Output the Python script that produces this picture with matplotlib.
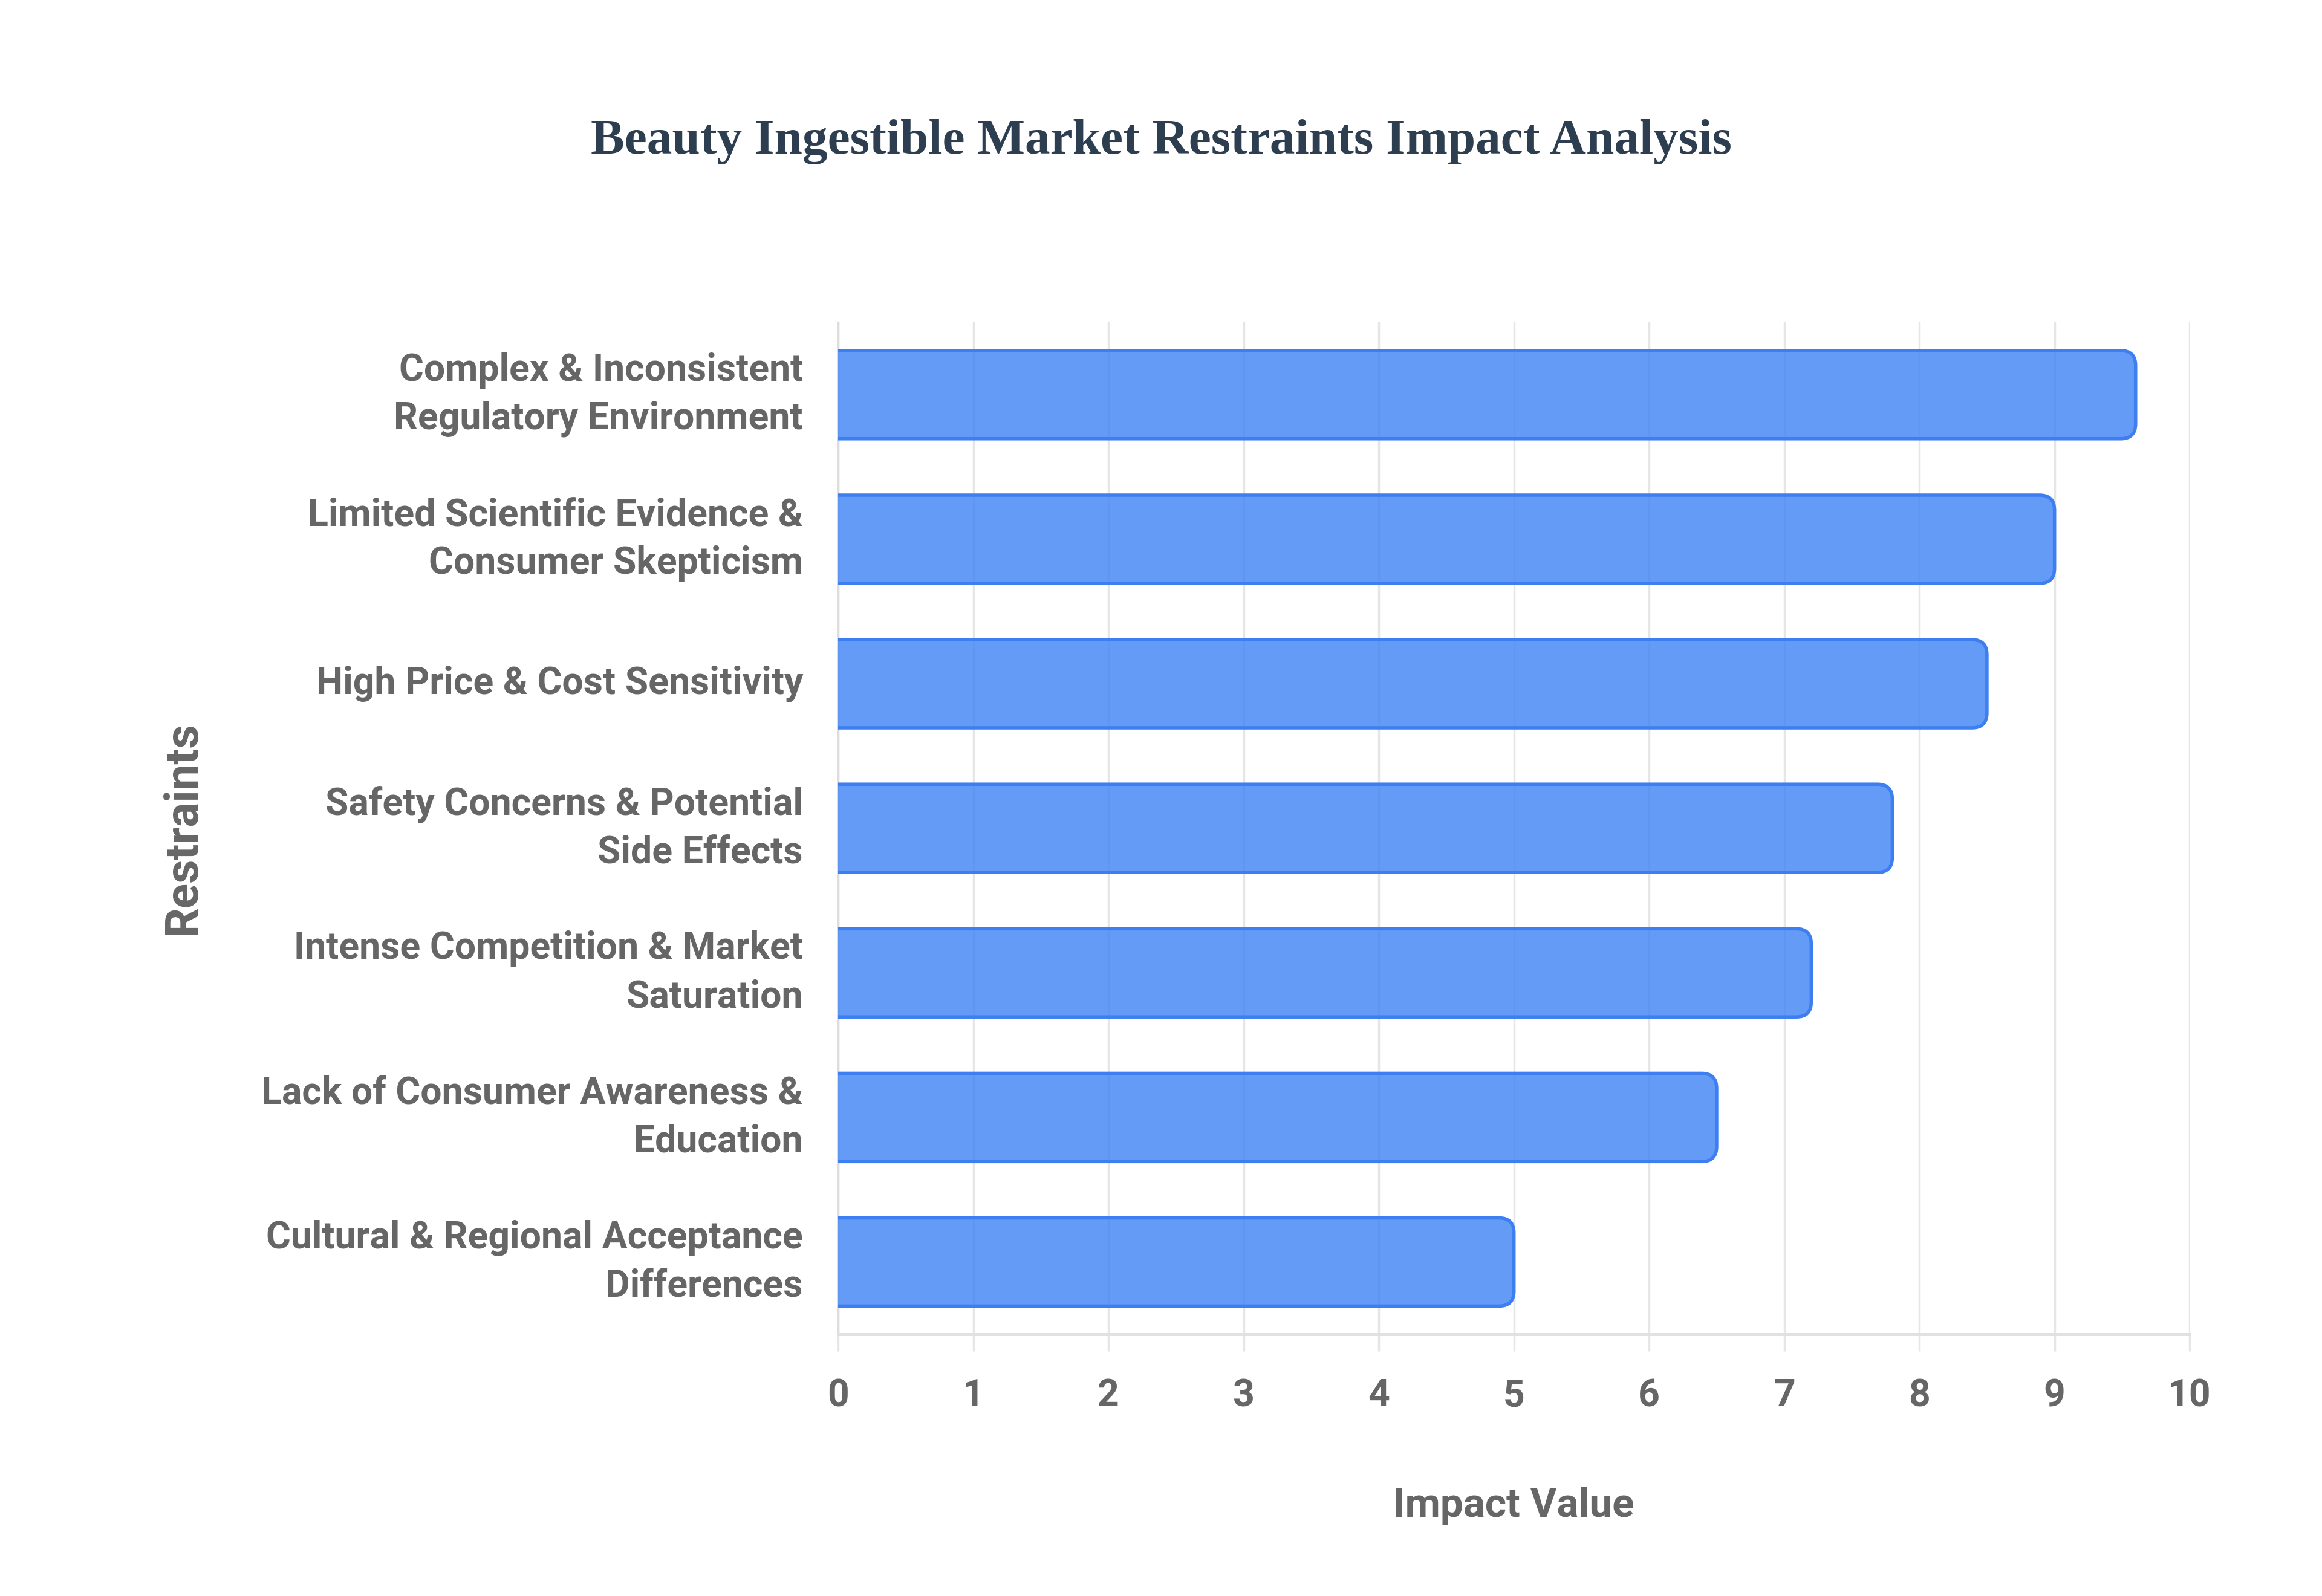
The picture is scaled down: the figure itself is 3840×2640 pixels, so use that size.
import matplotlib
matplotlib.use("Agg")
import matplotlib.pyplot as plt
from matplotlib.patches import FancyBboxPatch

# data (top to bottom)
restraints = [
    "Complex & Inconsistent\nRegulatory Environment",
    "Limited Scientific Evidence &\nConsumer Skepticism",
    "High Price & Cost Sensitivity",
    "Safety Concerns & Potential\nSide Effects",
    "Intense Competition & Market\nSaturation",
    "Lack of Consumer Awareness &\nEducation",
    "Cultural & Regional Acceptance\nDifferences",
]
impact = [9.6, 9.0, 8.5, 7.8, 7.2, 6.5, 5.0]
xticks = list(range(0, 11))

label_col = "#666666"
grid_col = "#e6e6e6"
bar_fill = (66/255, 133/255, 244/255, 0.82)
bar_edge = "#3d7ff0"
sans = ["Roboto", "DejaVu Sans"]

fig = plt.figure(figsize=(38.4, 26.4), dpi=100)
ax = fig.add_axes([0.361, 0.164, 0.582, 0.634])

ypos = list(range(len(restraints)))
bars = ax.barh(ypos, impact, height=0.61, color="none", edgecolor="none")

# rounded right ends; start left of 0 so the left corners are clipped away
xr = 0.11
asp = 0.94
for b in bars:
    x0, y0 = b.get_x(), b.get_y()
    w, h = b.get_width(), b.get_height()
    p = FancyBboxPatch((x0 - 0.3, y0), w + 0.3, h,
                       boxstyle="round,pad=0,rounding_size=%f" % xr,
                       mutation_aspect=asp,
                       facecolor=bar_fill, edgecolor=bar_edge, linewidth=4,
                       zorder=3)
    ax.add_patch(p)

ax.set_xlim(0, 10)
ax.set_ylim(len(restraints) - 0.5, -0.5)
ax.set_xticks(xticks)
ax.set_yticks(ypos)
ax.set_yticklabels(restraints, fontsize=45, fontweight="bold",
                   color=label_col, family=sans, linespacing=1.42, va="center")
ax.set_xticklabels([str(t) for t in xticks], fontsize=45, fontweight="bold",
                   color=label_col, family=sans)

ax.tick_params(axis="y", length=0, pad=42)
ax.tick_params(axis="x", length=20, width=2.5, color=grid_col, pad=32)

ax.grid(axis="x", color=grid_col, linewidth=2.5, zorder=0)
ax.set_axisbelow(True)
for s in ["top", "right"]:
    ax.spines[s].set_visible(False)
ax.spines["left"].set_color("#dddddd")
ax.spines["left"].set_linewidth(2.5)
ax.spines["bottom"].set_color("#e0e0e0")
ax.spines["bottom"].set_linewidth(3.5)

ax.set_xlabel("Impact Value", fontsize=48.5, fontweight="bold",
              color=label_col, family=sans, labelpad=86)
fig.text(0.0787, 0.5 * (0.164 + 0.798), "Restraints", rotation=90,
         ha="center", va="center", fontsize=55, fontweight="bold",
         color=label_col, family=sans)

fig.text(0.5, 1 - 235 / 2640, "Beauty Ingestible Market Restraints Impact Analysis",
         ha="center", va="center", fontsize=60, fontweight="bold",
         color="#2c3e50", family="Liberation Serif")

fig.savefig("out.png", dpi=100, facecolor="white")
